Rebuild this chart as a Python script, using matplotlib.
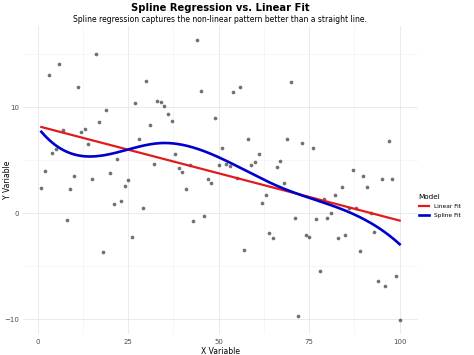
import numpy as np
import matplotlib
matplotlib.use('Agg')
import matplotlib.pyplot as plt
from matplotlib.lines import Line2D

# data
x_vals = np.arange(1, 101)
y_vals = np.array([
    2.36, 4.0, 13.0, 5.7, 6.07, 14.1, 7.86, -0.66, 2.3, 3.55,
    11.9, 7.67, 7.92, 6.57, 3.27, 15.0, 8.58, -3.68, 9.7, 3.83,
    0.88, 5.12, 1.13, 2.6, 3.11, -2.2, 10.4, 7.0, 0.53, 12.45,
    8.3, 4.65, 10.6, 10.5, 10.1, 9.4, 8.7, 5.6, 4.3, 3.9,
    2.26, 4.6, -0.73, 16.35, 11.5, -0.25, 3.27, 2.85, 9.0, 4.55,
    6.16, 4.65, 4.46, 11.4, 3.36, 11.9, -3.5, 7.0, 4.55, 4.87,
    5.57, 1.0, 1.7, -1.9, -2.3, 4.4, 4.97, 2.83, 7.0, 12.4,
    -0.4, -9.7, 6.66, -2.08, -2.2, 6.16, -0.57, -5.44, 1.32, -0.47,
    0.0, 1.7, -2.33, 2.5, -2.0, 0.47, 4.06, 0.5, -3.56, 3.52,
    2.5, 0.0, -1.8, -6.39, 3.24, -6.83, 6.8, 3.24, -5.9, -10.1,
])
spline_knots = [34, 67]

x_ticks = [0, 25, 50, 75, 100]
y_ticks = [-10, 0, 10]


def cubic_spline_basis(x, knots):
    cols = [np.ones_like(x), x, x**2, x**3]
    for k in knots:
        cols.append(np.clip(x - k, 0, None)**3)
    return np.column_stack(cols)


# fits
lin_coef = np.polyfit(x_vals, y_vals, 1)
xs = np.linspace(x_vals.min(), x_vals.max(), 300)
lin_y = np.polyval(lin_coef, xs)

X = cubic_spline_basis(x_vals.astype(float), spline_knots)
beta, *_ = np.linalg.lstsq(X, y_vals, rcond=None)
spl_y = cubic_spline_basis(xs, spline_knots) @ beta

fig = plt.figure(figsize=(4.74, 3.55), dpi=100)
ax = fig.add_axes([0.0494, 0.058, 0.8316, 0.8688])

ax.scatter(x_vals, y_vals, s=7, color='#4D4D4D', alpha=0.8, linewidths=0, zorder=3)
ax.plot(xs, lin_y, color='#E31A1C', linewidth=1.6, zorder=4)
ax.plot(xs, spl_y, color='#0000CD', linewidth=1.9, zorder=5)

ax.set_xlim(-3.95, 104.95)
ax.set_ylim(-11.42, 17.67)
ax.set_xticks(x_ticks)
ax.set_yticks(y_ticks)
ax.set_xticks([12.5, 37.5, 62.5, 87.5], minor=True)
ax.set_yticks([-5, 5, 15], minor=True)
ax.grid(True, which='major', color='#E6E6E6', linewidth=0.6)
ax.grid(True, which='minor', color='#F0F0F0', linewidth=0.4)
ax.set_axisbelow(True)
ax.tick_params(which='both', length=0, labelsize=5, labelcolor='#4D4D4D', pad=3)
for s in ax.spines.values():
    s.set_visible(False)

ax.set_xlabel('X Variable', fontsize=5.5)
ax.set_ylabel('Y Variable', fontsize=5.5)
ax.xaxis.set_label_coords(0.5, -0.041)
ax.yaxis.set_label_coords(-0.030, 0.5)

fig.text(0.464, 0.978, 'Spline Regression vs. Linear Fit', ha='center', va='center',
         fontsize=7.2, fontweight='bold')
fig.text(0.464, 0.946, 'Spline regression captures the non-linear pattern better than a straight line.',
         ha='center', va='center', fontsize=5.5)

handles = [Line2D([], [], color='#E31A1C', linewidth=1.6),
           Line2D([], [], color='#0000CD', linewidth=1.9)]
leg = fig.legend(handles, ['Linear Fit', 'Spline Fit'], title='Model',
                 loc='center left', bbox_to_anchor=(0.872, 0.42), frameon=False,
                 fontsize=4.2, title_fontsize=5.2, handlelength=1.8,
                 handletextpad=0.8, labelspacing=0.7)
leg._legend_box.align = 'left'

fig.savefig('out.png', dpi=100)
